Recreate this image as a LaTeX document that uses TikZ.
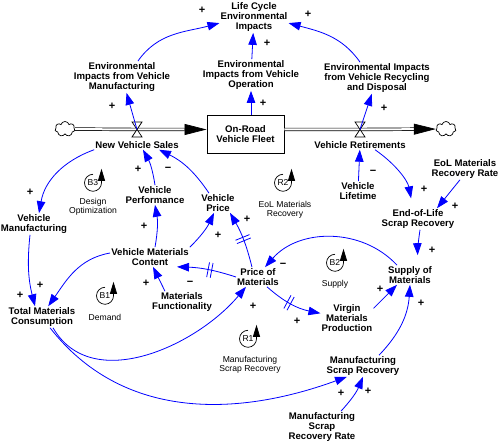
\documentclass[tikz,border=0pt]{standalone}
\usepackage{fontspec}
\setmainfont{Liberation Sans}
\usetikzlibrary{arrows.meta,shapes.symbols,decorations.markings}
\definecolor{linkblue}{RGB}{0,0,255}
\tikzset{
  var/.style={align=center, font=\fontsize{9.6}{10.2}\selectfont\bfseries, inner sep=1pt},
  stock/.style={var, draw, line width=0.9pt, minimum width=77pt, minimum height=38pt},
  cloudnode/.style={cloud, cloud puffs=7, draw, line width=0.7pt, minimum width=20pt, minimum height=15pt, inner sep=0pt},
  pipe/.style={draw, double, double distance=2pt, line width=0.7pt, -{Triangle[length=22pt,width=11pt]}},
  valve/.style={draw, fill=white, line width=0.7pt},
  link/.style={draw=linkblue, line width=0.8pt, -{Triangle[length=12pt,width=8.5pt]}},
  sign/.style={font=\fontsize{11}{11}\selectfont\bfseries, inner sep=0pt},
  loopname/.style={circle, inner sep=0pt, minimum size=17pt, font=\fontsize{8.6}{9}\selectfont},
  looplabel/.style={align=center, font=\fontsize{8.6}{9.2}\selectfont, inner sep=1pt},
  looparrow/.style={line width=0.7pt, -{Triangle[length=12pt,width=7pt]}},
  delaymark/.style={postaction={decorate, decoration={markings, mark=at position #1 with {\draw[linkblue, line width=0.8pt, arrows=-] (-1.8pt,-7.5pt) -- (-1.8pt,7.5pt) (1.8pt,-7.5pt) -- (1.8pt,7.5pt);}}}},
}
\begin{document}
\begin{tikzpicture}[x=1pt, y=1pt]
    \useasboundingbox (0,0) rectangle (500,443);
    % variables
    \node[var] (LCI) at (254,426) {Life Cycle\\Environmental\\Impacts};
    \node[var] (EIM) at (122,366) {Environmental\\Impacts from Vehicle\\Manufacturing};
    \node[var] (EIO) at (251,368) {Environmental\\Impacts from Vehicle\\Operation};
    \node[var] (EIR) at (377,365) {Environmental Impacts\\from Vehicle Recycling\\and Disposal};
    \node[stock] (fleet) at (245.5,309) {On-Road\\Vehicle Fleet};
    \node[cloudnode] (cl1) at (65,314) {};
    \node[cloudnode] (cl2) at (446,314) {};
    \coordinate (v1) at (137,313.5);
    \coordinate (v2) at (360,313.5);
    \node[var] (NVS) at (137,298) {New Vehicle Sales};
    \node[var] (VR) at (360,298) {Vehicle Retirements};
    \node[var] (VM) at (34,219) {Vehicle\\Manufacturing};
    \node[var] (TMC) at (42,126) {Total Materials\\Consumption};
    \node[var] (VP) at (155,248) {Vehicle\\Performance};
    \node[var] (VPr) at (218,240) {Vehicle\\Price};
    \node[var] (VMC) at (150,186) {Vehicle Materials\\Content};
    \node[var] (MF) at (182,141) {Materials\\Functionality};
    \node[var] (PoM) at (258,166) {Price of\\Materials};
    \node[var] (VMP) at (347,125) {Virgin\\Materials\\Production};
    \node[var] (MSR) at (363,77) {Manufacturing\\Scrap Recovery};
    \node[var] (MSRR) at (322,16) {Manufacturing\\Scrap\\Recovery Rate};
    \node[var] (SoM) at (410,168) {Supply of\\Materials};
    \node[var] (VL) at (358,252) {Vehicle\\Lifetime};
    \node[var] (EoLRR) at (465,274) {EoL Materials\\Recovery Rate};
    \node[var] (EoLSR) at (418,224) {End-of-Life\\Scrap Recovery};
    % loops
    \node[loopname] (B3) at (93,260) {B3};
    \node[looplabel] (B3l) at (93,236.5) {Design\\Optimization};
    \node[loopname] (B1) at (105,147) {B1};
    \node[looplabel] (B1l) at (105,126) {Demand};
    \node[loopname] (R1) at (248,104) {R1};
    \node[looplabel] (R1l) at (250,78) {Manufacturing\\Scrap Recovery};
    \node[loopname] (B2) at (335,180) {B2};
    \node[looplabel] (B2l) at (335,159) {Supply};
    \node[loopname] (R2) at (283,260) {R2};
    \node[looplabel] (R2l) at (285,233) {EoL Materials\\Recovery};
    \foreach \l in {B3,B1,R1,B2,R2}
        \draw[looparrow] (\l.90) arc[start angle=90, end angle=360, radius=8.5] -- ++(0,14);
    % flows
    \draw[pipe] (cl1) -- (v1) -- (v1 -| fleet.west);
    \draw[pipe] (v2 -| fleet.east) -- (v2) -- (cl2);
    \foreach \v in {v1,v2}
        \draw[valve] (\v) +(-5,7.5) -- +(5,7.5) -- +(-5,-7.5) -- +(5,-7.5) -- cycle;
    % links
    \draw[link] (EIM.45) to[out=55,in=195] (LCI.190);
    \draw[link] (EIO) -- (LCI);
    \draw[link] ([xshift=-17]EIR.north) to[out=125,in=-15] (LCI.-10);
    \draw[link] (v1) -- (EIM);
    \draw[link] (fleet.north -| EIO) -- (EIO);
    \draw[link] (v2) -- (EIR);
    \draw[link] (NVS.south west) to[out=200,in=80] ([xshift=5]VM.north);
    \draw[link] (VP.north) to[bend right=10] ([xshift=6]NVS.south);
    \draw[link] ([xshift=-9]VPr.north) to[bend right=15] ([xshift=22]NVS.south);
    \draw[link] ([xshift=5]VMC.north) to[bend right=10] (VP.south);
    \draw[link] (VMC.north east) to[bend right=10] ([xshift=-4]VPr.south);
    \draw[link] ([yshift=4]VMC.west) to[out=190,in=55] (TMC.60);
    \draw[link] ([xshift=-4]VM.south) to[bend right=10] ([xshift=-7]TMC.north);
    \draw[link] ([xshift=-17]MF.north) -- ([xshift=3]VMC.south);
    \draw[link, delaymark=.45] (PoM.west) to[bend right=8] (VMC.-20);
    \draw[link, delaymark=.5] ([xshift=-6]PoM.north) to[bend right=8] ([xshift=12]VPr.south);
    \draw[link] ([xshift=-13]SoM.north) to[bend right=48] ([xshift=7]PoM.north);
    \draw[link, delaymark=.45] ([xshift=9]PoM.south) to[bend right=15] (VMP.170);
    \draw[link] ([xshift=11]TMC.south) to[out=-60,in=230] ([xshift=-12]PoM.south);
    \draw[link] ([xshift=8]TMC.south) to[out=-52,in=200] ([xshift=-16]MSR.south);
    \draw[link] ([xshift=19]MSRR.north) to[bend right=10] (MSR.south);
    \draw[link] ([xshift=16]MSR.north) to[bend right=20] (SoM.south);
    \draw[link] (VMP.20) -- ([xshift=-13]SoM.south);
    \draw[link, shorten >=10pt] ([xshift=2]EoLSR.south) to[bend right=5] ([xshift=8]SoM.north);
    \draw[link, shorten >=10pt] ([xshift=15]VR.south) to[bend left=22] ([xshift=-5]EoLSR.north);
    \draw[link] ([xshift=-5]EoLRR.south) -- ([xshift=19]EoLSR.north);
    \draw[link] (VL) -- (VR);
    % polarities
    \foreach \sx/\sy/\st [count=\i] in {202/433/+, 267/400/+, 308/429/+, 112/337/+, 263/340/+,
        384/335/+, 30/251/+, 138/274/+, 168/274/−, 144/217/+, 218/208/+, 247/224/+,
        40/158/+, 20/148/+, 146/160/+, 190/160/−, 283/178/−, 297/122/+, 253/137/+,
        341/50/+, 368/52/+, 421/140/+, 380/154/+, 432/193/+, 424/254/+, 455/237/+, 373/271/−}
        \node[sign] (s\i) at (\sx,\sy) {\st};
\end{tikzpicture}
\end{document}
